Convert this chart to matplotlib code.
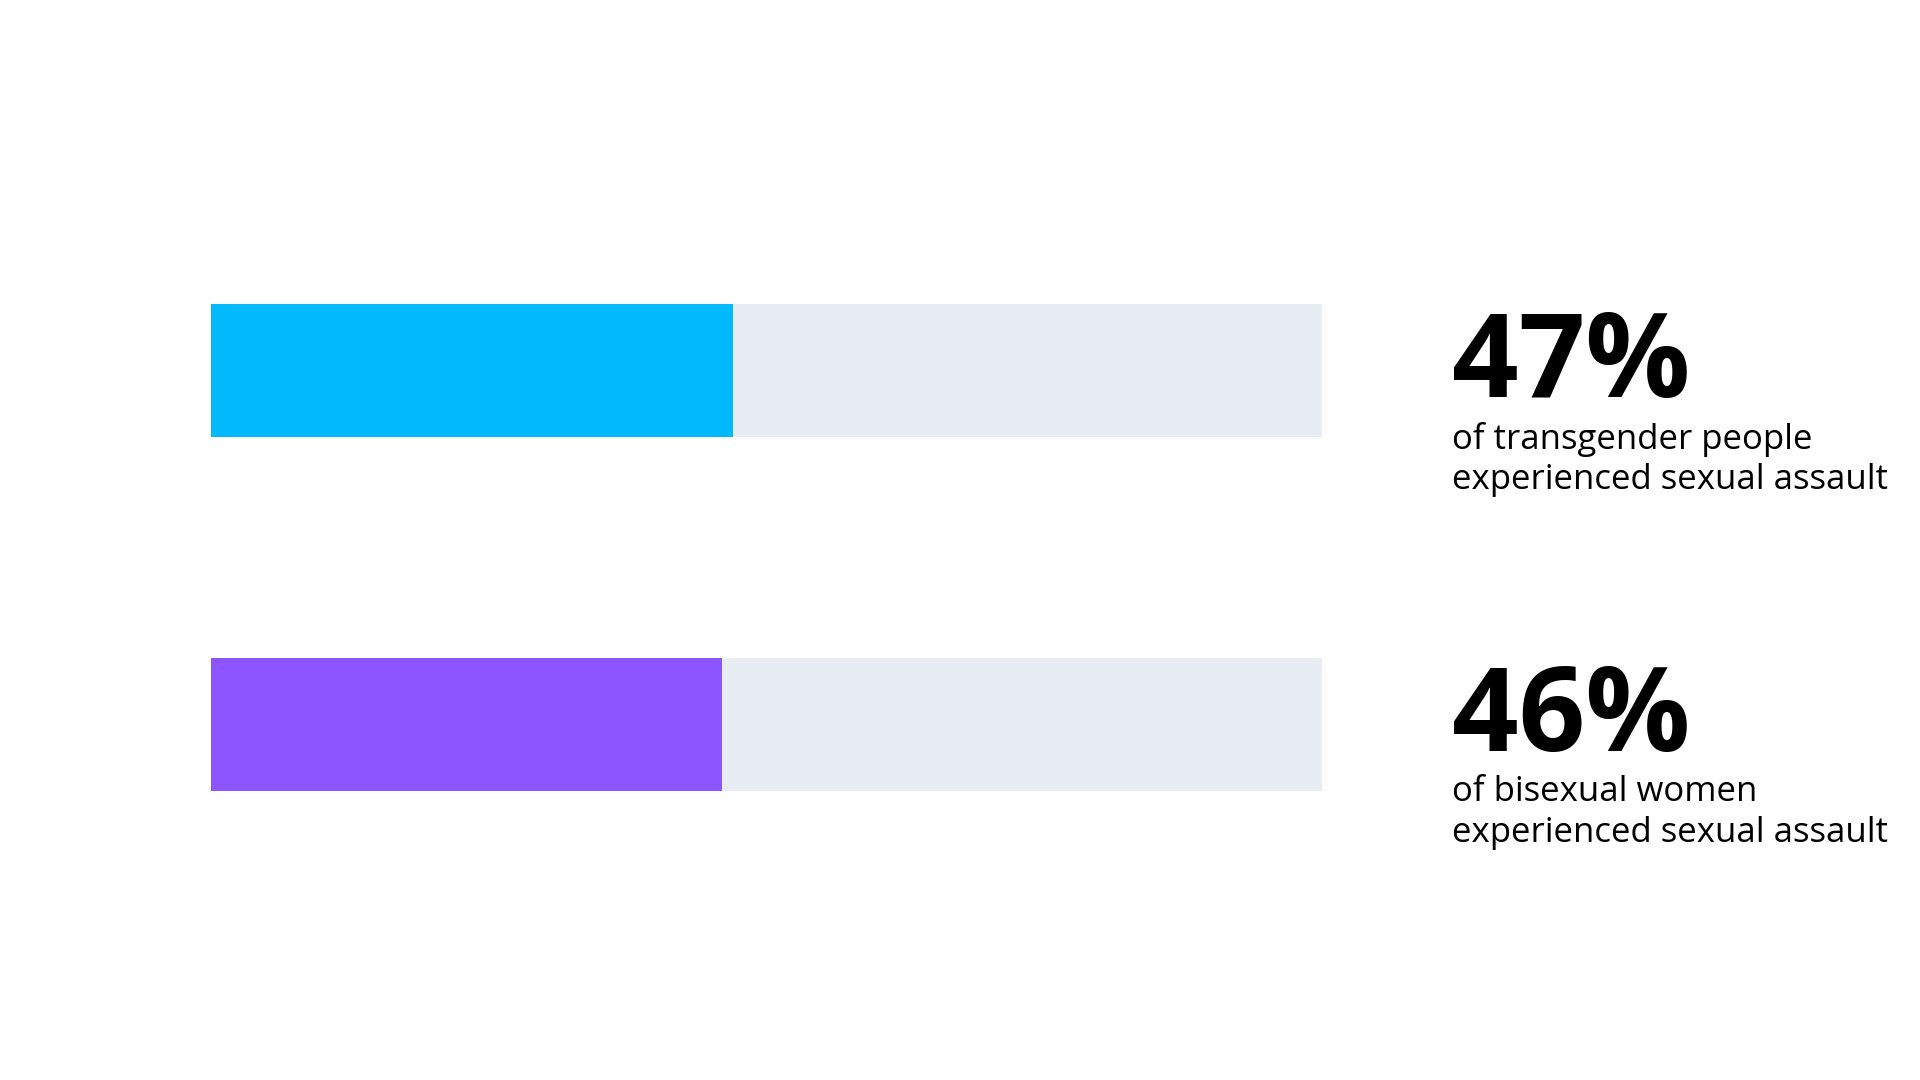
import matplotlib.pyplot as plt

values = [47, 46]
numbers = ["47%", "46%"]
labels = ["of transgender people\nexperienced sexual assault",
          "of bisexual women\nexperienced sexual assault"]
colors = ["#02BAFB", "#8C55FF"]
track = "#E7EDF3"

fig = plt.figure(figsize=(19.2, 10.8), dpi=100)
ax = fig.add_axes([0.1097, 0.268, 0.579, 0.4505])
ypos = [1, 0]
ax.barh(ypos, [100, 100], height=0.3756, color=track, left=0)
ax.barh(ypos, values, height=0.3756, color=colors, left=0)
ax.set_xlim(0, 100)
ax.set_ylim(-0.1878, 1.1878)
ax.axis("off")

for y, num, lab in zip(ypos, numbers, labels):
    ax.annotate(num, xy=(0.756, y - 0.075), xycoords=("figure fraction", "data"),
                fontsize=84, fontweight="bold", family="Open Sans", va="baseline", ha="left")
    ax.annotate(lab, xy=(0.756, y - 0.145), xycoords=("figure fraction", "data"),
                fontsize=25, family="Open Sans", va="top", ha="left", linespacing=1.25)

fig.savefig("out.png", dpi=100, facecolor="white")
